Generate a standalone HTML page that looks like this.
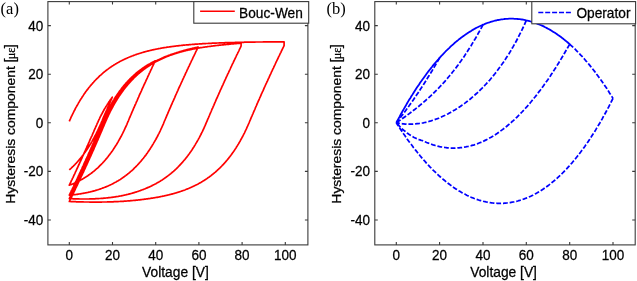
<!DOCTYPE html>
<html><head><meta charset="utf-8"><style>
html,body{margin:0;padding:0;background:#fff;}
svg{display:block;}
</style></head><body>
<svg width="637" height="281" viewBox="0 0 637 281">
<rect width="637" height="281" fill="#fff"/>
<g font-family="Liberation Sans, Arial, sans-serif" font-size="13.5" fill="#000" stroke-width="0">
<path d="M69.3,121.3L69.8,120.1L70.4,118.9L70.9,117.7L71.4,116.5L72.0,115.4L72.5,114.3L73.1,113.2L73.6,112.1L74.1,111.0L74.7,110.0L75.2,109.0L75.7,107.9L76.3,106.9L76.8,106.0L77.4,105.0L77.9,104.1L78.4,103.1L79.0,102.2L79.5,101.3L80.0,100.4L80.6,99.6L81.1,98.7L81.7,97.9L82.2,97.0L82.7,96.2L83.3,95.4L83.8,94.6L84.3,93.8L84.9,93.1L85.4,92.3L85.9,91.6L86.5,90.8L87.0,90.1L87.6,89.4L88.1,88.7L88.6,88.0L89.2,87.3L89.7,86.7L90.2,86.0L90.8,85.4L91.3,84.7L91.9,84.1L92.4,83.5L92.9,82.9L93.5,82.3L94.0,81.7L94.5,81.1L95.1,80.5L95.6,80.0L96.2,79.4L96.7,78.9L97.2,78.3L97.8,77.8L98.3,77.3L98.8,76.8L99.4,76.2L99.9,75.7L100.4,75.3L101.0,74.8L101.5,74.3L102.1,73.8L102.6,73.4L103.1,72.9L103.7,72.4L104.2,72.0L104.7,71.6L105.3,71.1L105.8,70.7L106.4,70.3L106.9,69.9L107.4,69.5L108.0,69.1L108.5,68.7L109.0,68.3L109.6,67.9L110.1,67.5L110.6,67.2L111.2,66.8L111.7,66.4L112.3,66.1L112.8,65.7L113.3,65.4L113.9,65.0L114.4,64.7L114.9,64.4L115.5,64.0L116.0,63.7L116.6,63.4L117.1,63.1L117.6,62.8L118.2,62.5L118.7,62.2L119.2,61.9L119.8,61.6L120.3,61.3L120.9,61.0L121.4,60.8L121.9,60.5L122.5,60.2L123.0,59.9L123.5,59.7L124.1,59.4L124.6,59.2L125.1,58.9L125.7,58.7L126.2,58.4L126.8,58.2L127.3,58.0L127.8,57.7L128.4,57.5L128.9,57.3L129.4,57.0L130.0,56.8L130.5,56.6L131.1,56.4L131.6,56.2L132.1,56.0L132.7,55.8L133.2,55.6L133.7,55.4L134.3,55.2L134.8,55.0L135.4,54.8L135.9,54.6L136.4,54.4L137.0,54.2L137.5,54.0L138.0,53.9L138.6,53.7L139.1,53.5L139.6,53.4L140.2,53.2L140.7,53.0L141.3,52.9L141.8,52.7L142.3,52.5L142.9,52.4L143.4,52.2L143.9,52.1L144.5,51.9L145.0,51.8L145.6,51.6L146.1,51.5L146.6,51.3L147.2,51.2L147.7,51.1L148.2,50.9L148.8,50.8L149.3,50.7L149.9,50.5L150.4,50.4L150.9,50.3L151.5,50.2L152.0,50.0L152.5,49.9L153.1,49.8L153.6,49.7L154.1,49.6L154.7,49.5L155.2,49.3L155.8,49.2L156.3,49.1L156.8,49.0L157.4,48.9L157.9,48.8L158.4,48.7L159.0,48.6L159.5,48.5L160.1,48.4L160.6,48.3L161.1,48.2L161.7,48.1L162.2,48.0L162.7,47.9L163.3,47.8L163.8,47.7L164.3,47.7L164.9,47.6L165.4,47.5L166.0,47.4L166.5,47.3L167.0,47.2L167.6,47.2L168.1,47.1L168.6,47.0L169.2,46.9L169.7,46.8L170.3,46.8L170.8,46.7L171.3,46.6L171.9,46.6L172.4,46.5L172.9,46.4L173.5,46.3L174.0,46.3L174.6,46.2L175.1,46.1L175.6,46.1L176.2,46.0L176.7,45.9L177.2,45.9L177.8,45.8L178.3,45.8L178.8,45.7L179.4,45.6L179.9,45.6L180.5,45.5L181.0,45.5L181.5,45.4L182.1,45.4L182.6,45.3L183.1,45.2L183.7,45.2L184.2,45.1L184.8,45.1L185.3,45.0L185.8,45.0L186.4,44.9L186.9,44.9L187.4,44.8L188.0,44.8L188.5,44.8L189.1,44.7L189.6,44.7L190.1,44.6L190.7,44.6L191.2,44.5L191.7,44.5L192.3,44.4L192.8,44.4L193.3,44.4L193.9,44.3L194.4,44.3L195.0,44.2L195.5,44.2L196.0,44.2L196.6,44.1L197.1,44.1L197.6,44.1L198.2,44.0L198.7,44.0L199.3,43.9L199.8,43.9L200.3,43.9L200.9,43.8L201.4,43.8L201.9,43.8L202.5,43.7L203.0,43.7L203.6,43.7L204.1,43.7L204.6,43.6L205.2,43.6L205.7,43.6L206.2,43.5L206.8,43.5L207.3,43.5L207.8,43.5L208.4,43.4L208.9,43.4L209.5,43.4L210.0,43.3L210.5,43.3L211.1,43.3L211.6,43.3L212.1,43.2L212.7,43.2L213.2,43.2L213.8,43.2L214.3,43.1L214.8,43.1L215.4,43.1L215.9,43.1L216.4,43.1L217.0,43.0L217.5,43.0L218.0,43.0L218.6,43.0L219.1,42.9L219.7,42.9L220.2,42.9L220.7,42.9L221.3,42.9L221.8,42.8L222.3,42.8L222.9,42.8L223.4,42.8L224.0,42.8L224.5,42.8L225.0,42.7L225.6,42.7L226.1,42.7L226.6,42.7L227.2,42.7L227.7,42.7L228.3,42.6L228.8,42.6L229.3,42.6L229.9,42.6L230.4,42.6L230.9,42.6L231.5,42.5L232.0,42.5L232.5,42.5L233.1,42.5L233.6,42.5L234.2,42.5L234.7,42.5L235.2,42.4L235.8,42.4L236.3,42.4L236.8,42.4L237.4,42.4L237.9,42.4L238.5,42.4L239.0,42.4L239.5,42.3L240.1,42.3L240.6,42.3L241.1,42.3L241.7,42.3L242.2,42.3L242.8,42.3L243.3,42.3L243.8,42.3L244.4,42.2L244.9,42.2L245.4,42.2L246.0,42.2L246.5,42.2L247.0,42.2L247.6,42.2L248.1,42.2L248.7,42.2L249.2,42.1L249.7,42.1L250.3,42.1L250.8,42.1L251.3,42.1L251.9,42.1L252.4,42.1L253.0,42.1L253.5,42.1L254.0,42.1L254.6,42.1L255.1,42.1L255.6,42.0L256.2,42.0L256.7,42.0L257.2,42.0L257.8,42.0L258.3,42.0L258.9,42.0L259.4,42.0L259.9,42.0L260.5,42.0L261.0,42.0L261.5,42.0L262.1,42.0L262.6,42.0L263.2,41.9L263.7,41.9L264.2,41.9L264.8,41.9L265.3,41.9L265.8,41.9L266.4,41.9L266.9,41.9L267.5,41.9L268.0,41.9L268.5,41.9L269.1,41.9L269.6,41.9L270.1,41.9L270.7,41.9L271.2,41.9L271.7,41.9L272.3,41.8L272.8,41.8L273.4,41.8L273.9,41.8L274.4,41.8L275.0,41.8L275.5,41.8L276.0,41.8L276.6,41.8L277.1,41.8L277.7,41.8L278.2,41.8L278.7,41.8L279.3,41.8L279.8,41.8L280.3,41.8L280.9,41.8L281.4,41.8L282.0,41.8L282.5,41.8L283.0,41.8L283.6,41.8L284.1,41.8L284.1,45.6L283.6,46.7L283.0,47.8L282.5,48.9L282.0,50.0L281.4,51.1L280.9,52.3L280.3,53.4L279.8,54.5L279.3,55.6L278.7,56.7L278.2,57.8L277.7,59.0L277.1,60.1L276.6,61.2L276.0,62.4L275.5,63.5L275.0,64.6L274.4,65.8L273.9,66.9L273.4,68.1L272.8,69.2L272.3,70.3L271.7,71.5L271.2,72.7L270.7,73.8L270.1,75.0L269.6,76.1L269.1,77.3L268.5,78.5L268.0,79.6L267.5,80.8L266.9,82.0L266.4,83.2L265.8,84.4L265.3,85.5L264.8,86.7L264.2,87.9L263.7,89.1L263.2,90.3L262.6,91.5L262.1,92.7L261.5,93.9L261.0,95.1L260.5,96.3L259.9,97.5L259.4,98.8L258.9,100.0L258.3,101.2L257.8,102.4L257.2,103.6L256.7,104.9L256.2,106.1L255.6,107.3L255.1,108.6L254.6,109.8L254.0,111.1L253.5,112.3L253.0,113.6L252.4,114.8L251.9,116.1L251.3,117.4L250.8,118.6L250.3,119.9L249.7,121.2L249.2,122.5L248.7,123.7L248.1,125.0L247.6,126.2L247.0,127.4L246.5,128.6L246.0,129.7L245.4,130.9L244.9,132.0L244.4,133.1L243.8,134.1L243.3,135.2L242.8,136.2L242.2,137.2L241.7,138.2L241.1,139.2L240.6,140.2L240.1,141.2L239.5,142.1L239.0,143.0L238.5,143.9L237.9,144.8L237.4,145.7L236.8,146.5L236.3,147.4L235.8,148.2L235.2,149.1L234.7,149.9L234.2,150.7L233.6,151.4L233.1,152.2L232.5,153.0L232.0,153.7L231.5,154.5L230.9,155.2L230.4,155.9L229.9,156.6L229.3,157.3L228.8,158.0L228.3,158.7L227.7,159.3L227.2,160.0L226.6,160.6L226.1,161.2L225.6,161.9L225.0,162.5L224.5,163.1L224.0,163.7L223.4,164.3L222.9,164.8L222.3,165.4L221.8,166.0L221.3,166.5L220.7,167.1L220.2,167.6L219.7,168.1L219.1,168.6L218.6,169.1L218.0,169.6L217.5,170.1L217.0,170.6L216.4,171.1L215.9,171.6L215.4,172.1L214.8,172.5L214.3,173.0L213.8,173.4L213.2,173.9L212.7,174.3L212.1,174.7L211.6,175.1L211.1,175.6L210.5,176.0L210.0,176.4L209.5,176.8L208.9,177.2L208.4,177.5L207.8,177.9L207.3,178.3L206.8,178.7L206.2,179.0L205.7,179.4L205.2,179.7L204.6,180.1L204.1,180.4L203.6,180.8L203.0,181.1L202.5,181.4L201.9,181.7L201.4,182.1L200.9,182.4L200.3,182.7L199.8,183.0L199.3,183.3L198.7,183.6L198.2,183.9L197.6,184.2L197.1,184.5L196.6,184.7L196.0,185.0L195.5,185.3L195.0,185.5L194.4,185.8L193.9,186.1L193.3,186.3L192.8,186.6L192.3,186.8L191.7,187.1L191.2,187.3L190.7,187.6L190.1,187.8L189.6,188.0L189.1,188.2L188.5,188.5L188.0,188.7L187.4,188.9L186.9,189.1L186.4,189.3L185.8,189.5L185.3,189.8L184.8,190.0L184.2,190.2L183.7,190.4L183.1,190.5L182.6,190.7L182.1,190.9L181.5,191.1L181.0,191.3L180.5,191.5L179.9,191.7L179.4,191.8L178.8,192.0L178.3,192.2L177.8,192.3L177.2,192.5L176.7,192.7L176.2,192.8L175.6,193.0L175.1,193.2L174.6,193.3L174.0,193.5L173.5,193.6L172.9,193.8L172.4,193.9L171.9,194.1L171.3,194.2L170.8,194.3L170.3,194.5L169.7,194.6L169.2,194.7L168.6,194.9L168.1,195.0L167.6,195.1L167.0,195.3L166.5,195.4L166.0,195.5L165.4,195.6L164.9,195.7L164.3,195.9L163.8,196.0L163.3,196.1L162.7,196.2L162.2,196.3L161.7,196.4L161.1,196.5L160.6,196.6L160.1,196.8L159.5,196.9L159.0,197.0L158.4,197.1L157.9,197.2L157.4,197.3L156.8,197.4L156.3,197.4L155.8,197.5L155.2,197.6L154.7,197.7L154.1,197.8L153.6,197.9L153.1,198.0L152.5,198.1L152.0,198.2L151.5,198.2L150.9,198.3L150.4,198.4L149.9,198.5L149.3,198.6L148.8,198.6L148.2,198.7L147.7,198.8L147.2,198.9L146.6,198.9L146.1,199.0L145.6,199.1L145.0,199.2L144.5,199.2L143.9,199.3L143.4,199.4L142.9,199.4L142.3,199.5L141.8,199.6L141.3,199.6L140.7,199.7L140.2,199.8L139.6,199.8L139.1,199.9L138.6,199.9L138.0,200.0L137.5,200.1L137.0,200.1L136.4,200.2L135.9,200.2L135.4,200.3L134.8,200.3L134.3,200.4L133.7,200.4L133.2,200.5L132.7,200.5L132.1,200.6L131.6,200.6L131.1,200.7L130.5,200.7L130.0,200.8L129.4,200.8L128.9,200.9L128.4,200.9L127.8,200.9L127.3,201.0L126.8,201.0L126.2,201.1L125.7,201.1L125.1,201.1L124.6,201.2L124.1,201.2L123.5,201.3L123.0,201.3L122.5,201.3L121.9,201.4L121.4,201.4L120.9,201.4L120.3,201.4L119.8,201.5L119.2,201.5L118.7,201.5L118.2,201.6L117.6,201.6L117.1,201.6L116.6,201.6L116.0,201.7L115.5,201.7L114.9,201.7L114.4,201.7L113.9,201.7L113.3,201.8L112.8,201.8L112.3,201.8L111.7,201.8L111.2,201.8L110.6,201.9L110.1,201.9L109.6,201.9L109.0,201.9L108.5,201.9L108.0,201.9L107.4,201.9L106.9,202.0L106.4,202.0L105.8,202.0L105.3,202.0L104.7,202.0L104.2,202.0L103.7,202.0L103.1,202.0L102.6,202.0L102.1,202.0L101.5,202.1L101.0,202.1L100.4,202.1L99.9,202.1L99.4,202.1L98.8,202.1L98.3,202.1L97.8,202.1L97.2,202.1L96.7,202.1L96.2,202.1L95.6,202.1L95.1,202.1L94.5,202.1L94.0,202.1L93.5,202.1L92.9,202.1L92.4,202.1L91.9,202.1L91.3,202.1L90.8,202.1L90.2,202.1L89.7,202.1L89.2,202.0L88.6,202.0L88.1,202.0L87.6,202.0L87.0,202.0L86.5,202.0L85.9,202.0L85.4,202.0L84.9,202.0L84.3,202.0L83.8,202.0L83.3,201.9L82.7,201.9L82.2,201.9L81.7,201.9L81.1,201.9L80.6,201.9L80.0,201.9L79.5,201.9L79.0,201.8L78.4,201.8L77.9,201.8L77.4,201.8L76.8,201.8L76.3,201.8L75.7,201.7L75.2,201.7L74.7,201.7L74.1,201.7L73.6,201.7L73.1,201.6L72.5,201.6L72.0,201.6L71.4,201.6L70.9,201.6L70.4,201.5L69.8,201.5L69.3,201.5L69.8,200.4L70.4,199.3L70.9,198.2L71.4,197.1L72.0,196.0L72.5,194.9L73.1,193.8L73.6,192.7L74.1,191.6L74.7,190.5L75.2,189.3L75.7,188.2L76.3,187.1L76.8,186.0L77.4,184.8L77.9,183.7L78.4,182.6L79.0,181.4L79.5,180.3L80.0,179.2L80.6,178.0L81.1,176.9L81.7,175.7L82.2,174.6L82.7,173.4L83.3,172.3L83.8,171.1L84.3,169.9L84.9,168.8L85.4,167.6L85.9,166.4L86.5,165.3L87.0,164.1L87.6,162.9L88.1,161.7L88.6,160.5L89.2,159.4L89.7,158.2L90.2,157.0L90.8,155.8L91.3,154.6L91.9,153.4L92.4,152.2L92.9,151.0L93.5,149.8L94.0,148.6L94.5,147.3L95.1,146.1L95.6,144.9L96.2,143.7L96.7,142.5L97.2,141.2L97.8,140.0L98.3,138.8L98.8,137.5L99.4,136.3L99.9,135.0L100.4,133.8L101.0,132.5L101.5,131.3L102.1,130.0L102.6,128.7L103.1,127.5L103.7,126.2L104.2,124.9L104.7,123.7L105.3,122.4L105.8,121.1L106.4,119.9L106.9,118.7L107.4,117.5L108.0,116.3L108.5,115.2L109.0,114.1L109.6,113.0L110.1,111.9L110.6,110.8L111.2,109.8L111.7,108.8L112.3,107.8L112.8,106.8L113.3,105.8L113.9,104.8L114.4,103.9L114.9,103.0L115.5,102.1L116.0,101.2L116.6,100.3L117.1,99.4L117.6,98.5L118.2,97.7L118.7,96.9L119.2,96.1L119.8,95.3L120.3,94.5L120.9,93.7L121.4,92.9L121.9,92.2L122.5,91.4L123.0,90.7L123.5,90.0L124.1,89.3L124.6,88.6L125.1,87.9L125.7,87.2L126.2,86.5L126.8,85.9L127.3,85.2L127.8,84.6L128.4,84.0L128.9,83.4L129.4,82.8L130.0,82.2L130.5,81.6L131.1,81.0L131.6,80.4L132.1,79.9L132.7,79.3L133.2,78.8L133.7,78.2L134.3,77.7L134.8,77.2L135.4,76.7L135.9,76.2L136.4,75.7L137.0,75.2L137.5,74.7L138.0,74.2L138.6,73.7L139.1,73.3L139.6,72.8L140.2,72.4L140.7,71.9L141.3,71.5L141.8,71.1L142.3,70.6L142.9,70.2L143.4,69.8L143.9,69.4L144.5,69.0L145.0,68.6L145.6,68.2L146.1,67.8L146.6,67.5L147.2,67.1L147.7,66.7L148.2,66.4L148.8,66.0L149.3,65.7L149.9,65.3L150.4,65.0L150.9,64.6L151.5,64.3L152.0,64.0L152.5,63.7L153.1,63.3L153.6,63.0L154.1,62.7L154.7,62.4L155.2,62.1L155.8,61.8L156.3,61.5L156.8,61.3L157.4,61.0L157.9,60.7L158.4,60.4L159.0,60.2L159.5,59.9L160.1,59.6L160.6,59.4L161.1,59.1L161.7,58.9L162.2,58.6L162.7,58.4L163.3,58.1L163.8,57.9L164.3,57.7L164.9,57.4L165.4,57.2L166.0,57.0L166.5,56.8L167.0,56.6L167.6,56.3L168.1,56.1L168.6,55.9L169.2,55.7L169.7,55.5L170.3,55.3L170.8,55.1L171.3,54.9L171.9,54.7L172.4,54.6L172.9,54.4L173.5,54.2L174.0,54.0L174.6,53.8L175.1,53.7L175.6,53.5L176.2,53.3L176.7,53.2L177.2,53.0L177.8,52.8L178.3,52.7L178.8,52.5L179.4,52.4L179.9,52.2L180.5,52.0L181.0,51.9L181.5,51.8L182.1,51.6L182.6,51.5L183.1,51.3L183.7,51.2L184.2,51.0L184.8,50.9L185.3,50.8L185.8,50.6L186.4,50.5L186.9,50.4L187.4,50.3L188.0,50.1L188.5,50.0L189.1,49.9L189.6,49.8L190.1,49.7L190.7,49.6L191.2,49.4L191.7,49.3L192.3,49.2L192.8,49.1L193.3,49.0L193.9,48.9L194.4,48.8L195.0,48.7L195.5,48.6L196.0,48.5L196.6,48.4L197.1,48.3L197.6,48.2L198.2,48.1L198.7,48.0L199.3,47.9L199.8,47.8L200.3,47.7L200.9,47.6L201.4,47.6L201.9,47.5L202.5,47.4L203.0,47.3L203.6,47.2L204.1,47.1L204.6,47.1L205.2,47.0L205.7,46.9L206.2,46.8L206.8,46.8L207.3,46.7L207.8,46.6L208.4,46.5L208.9,46.5L209.5,46.4L210.0,46.3L210.5,46.3L211.1,46.2L211.6,46.1L212.1,46.1L212.7,46.0L213.2,45.9L213.8,45.9L214.3,45.8L214.8,45.7L215.4,45.7L215.9,45.6L216.4,45.5L217.0,45.5L217.5,45.4L218.0,45.4L218.6,45.3L219.1,45.2L219.7,45.2L220.2,45.1L220.7,45.1L221.3,45.0L221.8,45.0L222.3,44.9L222.9,44.8L223.4,44.8L224.0,44.7L224.5,44.7L225.0,44.6L225.6,44.6L226.1,44.5L226.6,44.5L227.2,44.4L227.7,44.4L228.3,44.3L228.8,44.3L229.3,44.2L229.9,44.1L230.4,44.1L230.9,44.0L231.5,44.0L232.0,43.9L232.5,43.9L233.1,43.8L233.6,43.8L234.2,43.7L234.7,43.7L235.2,43.7L235.8,43.6L236.3,43.6L236.8,43.5L237.4,43.5L237.9,43.4L238.5,43.4L239.0,43.3L239.5,43.3L240.1,43.2L240.6,43.2L241.1,43.1L241.1,46.0L240.6,47.1L240.1,48.2L239.5,49.3L239.0,50.5L238.5,51.6L237.9,52.7L237.4,53.8L236.8,54.9L236.3,56.0L235.8,57.1L235.2,58.3L234.7,59.4L234.2,60.5L233.6,61.6L233.1,62.8L232.5,63.9L232.0,65.0L231.5,66.2L230.9,67.3L230.4,68.5L229.9,69.6L229.3,70.8L228.8,71.9L228.3,73.1L227.7,74.2L227.2,75.4L226.6,76.6L226.1,77.7L225.6,78.9L225.0,80.1L224.5,81.2L224.0,82.4L223.4,83.6L222.9,84.8L222.3,86.0L221.8,87.2L221.3,88.4L220.7,89.5L220.2,90.7L219.7,91.9L219.1,93.1L218.6,94.4L218.0,95.6L217.5,96.8L217.0,98.0L216.4,99.2L215.9,100.4L215.4,101.6L214.8,102.9L214.3,104.1L213.8,105.3L213.2,106.6L212.7,107.8L212.1,109.0L211.6,110.3L211.1,111.5L210.5,112.8L210.0,114.0L209.5,115.3L208.9,116.6L208.4,117.8L207.8,119.1L207.3,120.4L206.8,121.7L206.2,122.9L205.7,124.2L205.2,125.4L204.6,126.6L204.1,127.8L203.6,129.0L203.0,130.1L202.5,131.3L201.9,132.4L201.4,133.5L200.9,134.5L200.3,135.6L199.8,136.6L199.3,137.6L198.7,138.6L198.2,139.6L197.6,140.6L197.1,141.5L196.6,142.4L196.0,143.3L195.5,144.2L195.0,145.1L194.4,146.0L193.9,146.9L193.3,147.7L192.8,148.5L192.3,149.4L191.7,150.2L191.2,151.0L190.7,151.7L190.1,152.5L189.6,153.3L189.1,154.0L188.5,154.7L188.0,155.5L187.4,156.2L186.9,156.9L186.4,157.6L185.8,158.2L185.3,158.9L184.8,159.6L184.2,160.2L183.7,160.8L183.1,161.5L182.6,162.1L182.1,162.7L181.5,163.3L181.0,163.9L180.5,164.5L179.9,165.0L179.4,165.6L178.8,166.2L178.3,166.7L177.8,167.3L177.2,167.8L176.7,168.3L176.2,168.8L175.6,169.3L175.1,169.8L174.6,170.3L174.0,170.8L173.5,171.3L172.9,171.8L172.4,172.2L171.9,172.7L171.3,173.1L170.8,173.6L170.3,174.0L169.7,174.4L169.2,174.9L168.6,175.3L168.1,175.7L167.6,176.1L167.0,176.5L166.5,176.9L166.0,177.3L165.4,177.7L164.9,178.1L164.3,178.4L163.8,178.8L163.3,179.2L162.7,179.5L162.2,179.9L161.7,180.2L161.1,180.5L160.6,180.9L160.1,181.2L159.5,181.5L159.0,181.9L158.4,182.2L157.9,182.5L157.4,182.8L156.8,183.1L156.3,183.4L155.8,183.7L155.2,184.0L154.7,184.3L154.1,184.6L153.6,184.8L153.1,185.1L152.5,185.4L152.0,185.6L151.5,185.9L150.9,186.2L150.4,186.4L149.9,186.7L149.3,186.9L148.8,187.2L148.2,187.4L147.7,187.6L147.2,187.9L146.6,188.1L146.1,188.3L145.6,188.6L145.0,188.8L144.5,189.0L143.9,189.2L143.4,189.4L142.9,189.6L142.3,189.8L141.8,190.0L141.3,190.2L140.7,190.4L140.2,190.6L139.6,190.8L139.1,191.0L138.6,191.2L138.0,191.4L137.5,191.5L137.0,191.7L136.4,191.9L135.9,192.1L135.4,192.2L134.8,192.4L134.3,192.6L133.7,192.7L133.2,192.9L132.7,193.1L132.1,193.2L131.6,193.4L131.1,193.5L130.5,193.7L130.0,193.8L129.4,193.9L128.9,194.1L128.4,194.2L127.8,194.4L127.3,194.5L126.8,194.6L126.2,194.7L125.7,194.9L125.1,195.0L124.6,195.1L124.1,195.2L123.5,195.3L123.0,195.5L122.5,195.6L121.9,195.7L121.4,195.8L120.9,195.9L120.3,196.0L119.8,196.1L119.2,196.2L118.7,196.3L118.2,196.4L117.6,196.5L117.1,196.6L116.6,196.6L116.0,196.7L115.5,196.8L114.9,196.9L114.4,197.0L113.9,197.1L113.3,197.1L112.8,197.2L112.3,197.3L111.7,197.4L111.2,197.4L110.6,197.5L110.1,197.6L109.6,197.6L109.0,197.7L108.5,197.7L108.0,197.8L107.4,197.9L106.9,197.9L106.4,198.0L105.8,198.0L105.3,198.1L104.7,198.1L104.2,198.2L103.7,198.2L103.1,198.3L102.6,198.3L102.1,198.4L101.5,198.4L101.0,198.4L100.4,198.5L99.9,198.5L99.4,198.5L98.8,198.6L98.3,198.6L97.8,198.6L97.2,198.7L96.7,198.7L96.2,198.7L95.6,198.7L95.1,198.8L94.5,198.8L94.0,198.8L93.5,198.8L92.9,198.9L92.4,198.9L91.9,198.9L91.3,198.9L90.8,198.9L90.2,198.9L89.7,198.9L89.2,199.0L88.6,199.0L88.1,199.0L87.6,199.0L87.0,199.0L86.5,199.0L85.9,199.0L85.4,199.0L84.9,199.0L84.3,199.0L83.8,199.0L83.3,199.0L82.7,199.0L82.2,199.0L81.7,199.0L81.1,199.0L80.6,199.0L80.0,199.0L79.5,199.0L79.0,198.9L78.4,198.9L77.9,198.9L77.4,198.9L76.8,198.9L76.3,198.9L75.7,198.9L75.2,198.8L74.7,198.8L74.1,198.8L73.6,198.8L73.1,198.8L72.5,198.7L72.0,198.7L71.4,198.7L70.9,198.7L70.4,198.6L69.8,198.6L69.3,198.6L69.8,197.5L70.4,196.4L70.9,195.3L71.4,194.2L72.0,193.1L72.5,191.9L73.1,190.8L73.6,189.7L74.1,188.6L74.7,187.5L75.2,186.3L75.7,185.2L76.3,184.1L76.8,183.0L77.4,181.8L77.9,180.7L78.4,179.5L79.0,178.4L79.5,177.3L80.0,176.1L80.6,175.0L81.1,173.8L81.7,172.7L82.2,171.5L82.7,170.3L83.3,169.2L83.8,168.0L84.3,166.8L84.9,165.7L85.4,164.5L85.9,163.3L86.5,162.1L87.0,160.9L87.6,159.8L88.1,158.6L88.6,157.4L89.2,156.2L89.7,155.0L90.2,153.8L90.8,152.6L91.3,151.4L91.9,150.2L92.4,149.0L92.9,147.8L93.5,146.5L94.0,145.3L94.5,144.1L95.1,142.9L95.6,141.6L96.2,140.4L96.7,139.2L97.2,137.9L97.8,136.7L98.3,135.4L98.8,134.2L99.4,132.9L99.9,131.7L100.4,130.4L101.0,129.2L101.5,127.9L102.1,126.6L102.6,125.4L103.1,124.1L103.7,122.8L104.2,121.5L104.7,120.3L105.3,119.1L105.8,117.9L106.4,116.7L106.9,115.6L107.4,114.5L108.0,113.3L108.5,112.3L109.0,111.2L109.6,110.1L110.1,109.1L110.6,108.1L111.2,107.1L111.7,106.1L112.3,105.2L112.8,104.2L113.3,103.3L113.9,102.4L114.4,101.5L114.9,100.6L115.5,99.7L116.0,98.8L116.6,98.0L117.1,97.2L117.6,96.3L118.2,95.5L118.7,94.7L119.2,94.0L119.8,93.2L120.3,92.4L120.9,91.7L121.4,90.9L121.9,90.2L122.5,89.5L123.0,88.8L123.5,88.1L124.1,87.4L124.6,86.8L125.1,86.1L125.7,85.5L126.2,84.8L126.8,84.2L127.3,83.6L127.8,83.0L128.4,82.4L128.9,81.8L129.4,81.2L130.0,80.6L130.5,80.1L131.1,79.5L131.6,78.9L132.1,78.4L132.7,77.9L133.2,77.4L133.7,76.8L134.3,76.3L134.8,75.8L135.4,75.3L135.9,74.8L136.4,74.4L137.0,73.9L137.5,73.4L138.0,73.0L138.6,72.5L139.1,72.1L139.6,71.6L140.2,71.2L140.7,70.8L141.3,70.4L141.8,69.9L142.3,69.5L142.9,69.1L143.4,68.7L143.9,68.3L144.5,68.0L145.0,67.6L145.6,67.2L146.1,66.8L146.6,66.5L147.2,66.1L147.7,65.8L148.2,65.4L148.8,65.1L149.3,64.8L149.9,64.4L150.4,64.1L150.9,63.8L151.5,63.5L152.0,63.1L152.5,62.8L153.1,62.5L153.6,62.2L154.1,61.9L154.7,61.6L155.2,61.4L155.8,61.1L156.3,60.8L156.8,60.5L157.4,60.3L157.9,60.0L158.4,59.7L159.0,59.5L159.5,59.2L160.1,59.0L160.6,58.7L161.1,58.5L161.7,58.2L162.2,58.0L162.7,57.8L163.3,57.5L163.8,57.3L164.3,57.1L164.9,56.9L165.4,56.6L166.0,56.4L166.5,56.2L167.0,56.0L167.6,55.8L168.1,55.6L168.6,55.4L169.2,55.2L169.7,55.0L170.3,54.8L170.8,54.6L171.3,54.4L171.9,54.2L172.4,54.0L172.9,53.9L173.5,53.7L174.0,53.5L174.6,53.3L175.1,53.1L175.6,53.0L176.2,52.8L176.7,52.6L177.2,52.5L177.8,52.3L178.3,52.1L178.8,52.0L179.4,51.8L179.9,51.6L180.5,51.5L181.0,51.3L181.5,51.2L182.1,51.0L182.6,50.9L183.1,50.7L183.7,50.6L184.2,50.4L184.8,50.3L185.3,50.1L185.8,50.0L186.4,49.8L186.9,49.7L187.4,49.6L188.0,49.4L188.5,49.3L189.1,49.2L189.6,49.0L190.1,48.9L190.7,48.8L191.2,48.6L191.7,48.5L192.3,48.4L192.8,48.2L193.3,48.1L193.9,48.0L194.4,47.9L195.0,47.7L195.5,47.6L196.0,47.5L196.6,47.4L197.1,47.3L197.6,47.1L198.2,47.0L197.6,48.1L197.1,49.2L196.6,50.3L196.0,51.4L195.5,52.5L195.0,53.7L194.4,54.8L193.9,55.9L193.3,57.0L192.8,58.1L192.3,59.3L191.7,60.4L191.2,61.5L190.7,62.6L190.1,63.8L189.6,64.9L189.1,66.1L188.5,67.2L188.0,68.3L187.4,69.5L186.9,70.6L186.4,71.8L185.8,72.9L185.3,74.1L184.8,75.3L184.2,76.4L183.7,77.6L183.1,78.8L182.6,79.9L182.1,81.1L181.5,82.3L181.0,83.5L180.5,84.7L179.9,85.8L179.4,87.0L178.8,88.2L178.3,89.4L177.8,90.6L177.2,91.8L176.7,93.0L176.2,94.2L175.6,95.4L175.1,96.6L174.6,97.8L174.0,99.1L173.5,100.3L172.9,101.5L172.4,102.7L171.9,104.0L171.3,105.2L170.8,106.4L170.3,107.7L169.7,108.9L169.2,110.2L168.6,111.4L168.1,112.7L167.6,113.9L167.0,115.2L166.5,116.4L166.0,117.7L165.4,119.0L164.9,120.2L164.3,121.5L163.8,122.8L163.3,124.1L162.7,125.3L162.2,126.5L161.7,127.7L161.1,128.9L160.6,130.0L160.1,131.1L159.5,132.3L159.0,133.3L158.4,134.4L157.9,135.5L157.4,136.5L156.8,137.5L156.3,138.5L155.8,139.5L155.2,140.4L154.7,141.4L154.1,142.3L153.6,143.2L153.1,144.1L152.5,145.0L152.0,145.9L151.5,146.8L150.9,147.6L150.4,148.4L149.9,149.3L149.3,150.1L148.8,150.9L148.2,151.6L147.7,152.4L147.2,153.2L146.6,153.9L146.1,154.7L145.6,155.4L145.0,156.1L144.5,156.8L143.9,157.5L143.4,158.2L142.9,158.8L142.3,159.5L141.8,160.1L141.3,160.8L140.7,161.4L140.2,162.0L139.6,162.6L139.1,163.2L138.6,163.8L138.0,164.4L137.5,165.0L137.0,165.5L136.4,166.1L135.9,166.7L135.4,167.2L134.8,167.7L134.3,168.2L133.7,168.8L133.2,169.3L132.7,169.8L132.1,170.3L131.6,170.8L131.1,171.2L130.5,171.7L130.0,172.2L129.4,172.6L128.9,173.1L128.4,173.5L127.8,173.9L127.3,174.4L126.8,174.8L126.2,175.2L125.7,175.6L125.1,176.0L124.6,176.4L124.1,176.8L123.5,177.2L123.0,177.6L122.5,177.9L121.9,178.3L121.4,178.7L120.9,179.0L120.3,179.4L119.8,179.7L119.2,180.0L118.7,180.4L118.2,180.7L117.6,181.0L117.1,181.3L116.6,181.6L116.0,182.0L115.5,182.3L114.9,182.5L114.4,182.8L113.9,183.1L113.3,183.4L112.8,183.7L112.3,184.0L111.7,184.2L111.2,184.5L110.6,184.7L110.1,185.0L109.6,185.3L109.0,185.5L108.5,185.7L108.0,186.0L107.4,186.2L106.9,186.4L106.4,186.7L105.8,186.9L105.3,187.1L104.7,187.3L104.2,187.5L103.7,187.7L103.1,187.9L102.6,188.1L102.1,188.3L101.5,188.5L101.0,188.7L100.4,188.9L99.9,189.1L99.4,189.3L98.8,189.5L98.3,189.6L97.8,189.8L97.2,190.0L96.7,190.1L96.2,190.3L95.6,190.4L95.1,190.6L94.5,190.8L94.0,190.9L93.5,191.1L92.9,191.2L92.4,191.3L91.9,191.5L91.3,191.6L90.8,191.7L90.2,191.9L89.7,192.0L89.2,192.1L88.6,192.2L88.1,192.4L87.6,192.5L87.0,192.6L86.5,192.7L85.9,192.8L85.4,192.9L84.9,193.0L84.3,193.1L83.8,193.2L83.3,193.3L82.7,193.4L82.2,193.5L81.7,193.6L81.1,193.7L80.6,193.8L80.0,193.9L79.5,194.0L79.0,194.0L78.4,194.1L77.9,194.2L77.4,194.3L76.8,194.3L76.3,194.4L75.7,194.5L75.2,194.6L74.7,194.6L74.1,194.7L73.6,194.7L73.1,194.8L72.5,194.9L72.0,194.9L71.4,195.0L70.9,195.0L70.4,195.1L69.8,195.1L69.3,195.2L69.8,194.1L70.4,193.0L70.9,191.9L71.4,190.7L72.0,189.6L72.5,188.5L73.1,187.4L73.6,186.3L74.1,185.1L74.7,184.0L75.2,182.9L75.7,181.7L76.3,180.6L76.8,179.5L77.4,178.3L77.9,177.2L78.4,176.0L79.0,174.9L79.5,173.7L80.0,172.6L80.6,171.4L81.1,170.2L81.7,169.1L82.2,167.9L82.7,166.7L83.3,165.6L83.8,164.4L84.3,163.2L84.9,162.0L85.4,160.9L85.9,159.7L86.5,158.5L87.0,157.3L87.6,156.1L88.1,154.9L88.6,153.7L89.2,152.5L89.7,151.3L90.2,150.1L90.8,148.9L91.3,147.7L91.9,146.4L92.4,145.2L92.9,144.0L93.5,142.8L94.0,141.5L94.5,140.3L95.1,139.1L95.6,137.8L96.2,136.6L96.7,135.3L97.2,134.1L97.8,132.8L98.3,131.6L98.8,130.3L99.4,129.1L99.9,127.8L100.4,126.5L101.0,125.3L101.5,124.0L102.1,122.7L102.6,121.4L103.1,120.2L103.7,119.0L104.2,117.8L104.7,116.6L105.3,115.5L105.8,114.4L106.4,113.3L106.9,112.2L107.4,111.1L108.0,110.1L108.5,109.0L109.0,108.0L109.6,107.0L110.1,106.0L110.6,105.1L111.2,104.1L111.7,103.2L112.3,102.3L112.8,101.4L113.3,100.5L113.9,99.6L114.4,98.8L114.9,97.9L115.5,97.1L116.0,96.3L116.6,95.5L117.1,94.7L117.6,93.9L118.2,93.1L118.7,92.4L119.2,91.6L119.8,90.9L120.3,90.2L120.9,89.5L121.4,88.8L121.9,88.1L122.5,87.4L123.0,86.7L123.5,86.1L124.1,85.4L124.6,84.8L125.1,84.2L125.7,83.5L126.2,82.9L126.8,82.3L127.3,81.7L127.8,81.2L128.4,80.6L128.9,80.0L129.4,79.5L130.0,78.9L130.5,78.4L131.1,77.9L131.6,77.3L132.1,76.8L132.7,76.3L133.2,75.8L133.7,75.3L134.3,74.8L134.8,74.4L135.4,73.9L135.9,73.4L136.4,73.0L137.0,72.5L137.5,72.1L138.0,71.7L138.6,71.2L139.1,70.8L139.6,70.4L140.2,70.0L140.7,69.6L141.3,69.2L141.8,68.8L142.3,68.4L142.9,68.1L143.4,67.7L143.9,67.3L144.5,67.0L145.0,66.6L145.6,66.3L146.1,65.9L146.6,65.6L147.2,65.3L147.7,64.9L148.2,64.6L148.8,64.3L149.3,64.0L149.9,63.7L150.4,63.4L150.9,63.1L151.5,62.8L152.0,62.5L152.5,62.2L153.1,61.9L153.6,61.7L154.1,61.4L154.7,61.1L155.2,60.9L154.7,62.0L154.1,63.1L153.6,64.3L153.1,65.4L152.5,66.5L152.0,67.7L151.5,68.8L150.9,70.0L150.4,71.1L149.9,72.3L149.3,73.4L148.8,74.6L148.2,75.8L147.7,76.9L147.2,78.1L146.6,79.3L146.1,80.4L145.6,81.6L145.0,82.8L144.5,84.0L143.9,85.2L143.4,86.3L142.9,87.5L142.3,88.7L141.8,89.9L141.3,91.1L140.7,92.3L140.2,93.5L139.6,94.7L139.1,95.9L138.6,97.1L138.0,98.4L137.5,99.6L137.0,100.8L136.4,102.0L135.9,103.3L135.4,104.5L134.8,105.7L134.3,107.0L133.7,108.2L133.2,109.4L132.7,110.7L132.1,111.9L131.6,113.2L131.1,114.4L130.5,115.7L130.0,117.0L129.4,118.2L128.9,119.5L128.4,120.8L127.8,122.0L127.3,123.3L126.8,124.6L126.2,125.8L125.7,127.0L125.1,128.2L124.6,129.3L124.1,130.4L123.5,131.6L123.0,132.7L122.5,133.7L121.9,134.8L121.4,135.8L120.9,136.8L120.3,137.8L119.8,138.8L119.2,139.8L118.7,140.7L118.2,141.7L117.6,142.6L117.1,143.5L116.6,144.4L116.0,145.2L115.5,146.1L114.9,146.9L114.4,147.8L113.9,148.6L113.3,149.4L112.8,150.2L112.3,150.9L111.7,151.7L111.2,152.5L110.6,153.2L110.1,153.9L109.6,154.6L109.0,155.3L108.5,156.0L108.0,156.7L107.4,157.4L106.9,158.1L106.4,158.7L105.8,159.3L105.3,160.0L104.7,160.6L104.2,161.2L103.7,161.8L103.1,162.4L102.6,163.0L102.1,163.5L101.5,164.1L101.0,164.6L100.4,165.2L99.9,165.7L99.4,166.2L98.8,166.8L98.3,167.3L97.8,167.8L97.2,168.3L96.7,168.7L96.2,169.2L95.6,169.7L95.1,170.2L94.5,170.6L94.0,171.1L93.5,171.5L92.9,171.9L92.4,172.3L91.9,172.8L91.3,173.2L90.8,173.6L90.2,174.0L89.7,174.4L89.2,174.8L88.6,175.1L88.1,175.5L87.6,175.9L87.0,176.2L86.5,176.6L85.9,176.9L85.4,177.3L84.9,177.6L84.3,177.9L83.8,178.3L83.3,178.6L82.7,178.9L82.2,179.2L81.7,179.5L81.1,179.8L80.6,180.1L80.0,180.4L79.5,180.7L79.0,181.0L78.4,181.2L77.9,181.5L77.4,181.8L76.8,182.0L76.3,182.3L75.7,182.5L75.2,182.8L74.7,183.0L74.1,183.3L73.6,183.5L73.1,183.7L72.5,184.0L72.0,184.2L71.4,184.4L70.9,184.6L70.4,184.8L69.8,185.0L69.3,185.2L69.8,184.1L70.4,183.0L70.9,181.8L71.4,180.7L72.0,179.6L72.5,178.4L73.1,177.3L73.6,176.1L74.1,175.0L74.7,173.8L75.2,172.7L75.7,171.5L76.3,170.3L76.8,169.2L77.4,168.0L77.9,166.8L78.4,165.7L79.0,164.5L79.5,163.3L80.0,162.1L80.6,161.0L81.1,159.8L81.7,158.6L82.2,157.4L82.7,156.2L83.3,155.0L83.8,153.8L84.3,152.6L84.9,151.5L85.4,150.3L85.9,149.1L86.5,147.9L87.0,146.7L87.6,145.5L88.1,144.3L88.6,143.1L89.2,141.9L89.7,140.6L90.2,139.4L90.8,138.2L91.3,137.0L91.9,135.8L92.4,134.6L92.9,133.4L93.5,132.1L94.0,130.9L94.5,129.7L95.1,128.5L95.6,127.2L96.2,126.0L96.7,124.8L97.2,123.5L97.8,122.3L98.3,121.1L98.8,120.0L99.4,118.8L99.9,117.7L100.4,116.6L101.0,115.5L101.5,114.5L102.1,113.5L102.6,112.5L103.1,111.5L103.7,110.5L104.2,109.5L104.7,108.6L105.3,107.7L105.8,106.8L106.4,105.9L106.9,105.1L107.4,104.2L108.0,103.4L108.5,102.6L109.0,101.8L109.6,101.0L110.1,100.2L110.6,99.5L111.2,98.7L111.7,98.0L112.3,97.3L112.3,97.2L111.7,98.4L111.2,99.7L110.6,100.9L110.1,102.1L109.6,103.3L109.0,104.5L108.5,105.8L108.0,107.0L107.4,108.2L106.9,109.5L106.4,110.7L105.8,112.0L105.3,113.2L104.7,114.5L104.2,115.7L103.7,117.0L103.1,118.2L102.6,119.5L102.1,120.8L101.5,122.1L101.0,123.3L100.4,124.6L99.9,125.8L99.4,127.0L98.8,128.2L98.3,129.3L97.8,130.4L97.2,131.6L96.7,132.6L96.2,133.7L95.6,134.8L95.1,135.8L94.5,136.8L94.0,137.8L93.5,138.8L92.9,139.8L92.4,140.7L91.9,141.6L91.3,142.6L90.8,143.5L90.2,144.4L89.7,145.2L89.2,146.1L88.6,146.9L88.1,147.8L87.6,148.6L87.0,149.4L86.5,150.2L85.9,151.0L85.4,151.7L84.9,152.5L84.3,153.2L83.8,154.0L83.3,154.7L82.7,155.4L82.2,156.1L81.7,156.8L81.1,157.4L80.6,158.1L80.0,158.8L79.5,159.4L79.0,160.0L78.4,160.7L77.9,161.3L77.4,161.9L76.8,162.5L76.3,163.1L75.7,163.6L75.2,164.2L74.7,164.8L74.1,165.3L73.6,165.9L73.1,166.4L72.5,166.9L72.0,167.4L71.4,168.0L70.9,168.5L70.4,169.0L69.8,169.4L69.3,169.9" fill="none" stroke="#f00" stroke-width="1.7" stroke-linejoin="round"/>
<path d="M613.0,98.4L611.9,100.5L610.8,102.7L609.7,104.8L608.7,106.9L607.6,108.9L606.5,111.0L605.4,113.0L604.3,115.0L603.2,116.9L602.2,118.9L601.1,120.8L600.0,122.7L598.9,124.5L597.8,126.3L596.7,128.1L595.7,129.9L594.6,131.7L593.5,133.4L592.4,135.1L591.3,136.8L590.2,138.4L589.2,140.1L588.1,141.7L587.0,143.3L585.9,144.8L584.8,146.4L583.7,147.9L582.7,149.4L581.6,150.8L580.5,152.3L579.4,153.7L578.3,155.1L577.2,156.5L576.2,157.8L575.1,159.2L574.0,160.5L572.9,161.8L571.8,163.1L570.7,164.3L569.7,165.5L568.6,166.7L567.5,167.9L566.4,169.1L565.3,170.2L564.2,171.3L563.2,172.4L562.1,173.5L561.0,174.6L559.9,175.6L558.8,176.6L557.7,177.6L556.7,178.6L555.6,179.6L554.5,180.5L553.4,181.4L552.3,182.3L551.2,183.2L550.2,184.0L549.1,184.9L548.0,185.7L546.9,186.5L545.8,187.3L544.7,188.0L543.7,188.8L542.6,189.5L541.5,190.2L540.4,190.9L539.3,191.6L538.2,192.2L537.2,192.8L536.1,193.4L535.0,194.0L533.9,194.6L532.8,195.2L531.7,195.7L530.7,196.2L529.6,196.7L528.5,197.2L527.4,197.7L526.3,198.1L525.2,198.5L524.2,198.9L523.1,199.3L522.0,199.7L520.9,200.0L519.8,200.4L518.7,200.7L517.7,201.0L516.6,201.3L515.5,201.5L514.4,201.8L513.3,202.0L512.2,202.2L511.2,202.4L510.1,202.6L509.0,202.7L507.9,202.9L506.8,203.0L505.7,203.1L504.6,203.2L503.6,203.3L502.5,203.3L501.4,203.3L500.3,203.4L499.2,203.3L498.1,203.3L497.1,203.3L496.0,203.2L494.9,203.2L493.8,203.1L492.7,203.0L491.6,202.8L490.6,202.7L489.5,202.5L488.4,202.4L487.3,202.2L486.2,202.0L485.1,201.7L484.1,201.5L483.0,201.2L481.9,200.9L480.8,200.6L479.7,200.3L478.6,200.0L477.6,199.6L476.5,199.3L475.4,198.9L474.3,198.5L473.2,198.0L472.1,197.6L471.1,197.2L470.0,196.7L468.9,196.2L467.8,195.7L466.7,195.2L465.6,194.6L464.6,194.0L463.5,193.5L462.4,192.9L461.3,192.3L460.2,191.6L459.1,191.0L458.1,190.3L457.0,189.6L455.9,188.9L454.8,188.2L453.7,187.5L452.6,186.7L451.6,185.9L450.5,185.1L449.4,184.3L448.3,183.5L447.2,182.7L446.1,181.8L445.1,180.9L444.0,180.0L442.9,179.1L441.8,178.2L440.7,177.2L439.6,176.3L438.6,175.3L437.5,174.3L436.4,173.3L435.3,172.2L434.2,171.2L433.1,170.1L432.1,169.0L431.0,167.9L429.9,166.8L428.8,165.6L427.7,164.4L426.6,163.3L425.6,162.1L424.5,160.8L423.4,159.6L422.3,158.4L421.2,157.1L420.1,155.8L419.1,154.5L418.0,153.2L416.9,151.8L415.8,150.4L414.7,149.1L413.6,147.7L412.6,146.2L411.5,144.8L410.4,143.4L409.3,141.9L408.2,140.4L407.1,138.9L406.1,137.4L405.0,135.8L403.9,134.3L402.8,132.7L401.7,131.1L400.6,129.5L399.6,127.8L398.5,126.2L397.4,124.5L396.3,122.8M569.7,44.2L568.6,46.1L567.5,48.0L566.4,49.9L565.3,51.8L564.2,53.7L563.2,55.5L562.1,57.3L561.0,59.1L559.9,60.9L558.8,62.7L557.7,64.4L556.7,66.2L555.6,67.9L554.5,69.6L553.4,71.2L552.3,72.9L551.2,74.5L550.2,76.2L549.1,77.8L548.0,79.4L546.9,80.9L545.8,82.5L544.7,84.0L543.7,85.5L542.6,87.0L541.5,88.5L540.4,90.0L539.3,91.4L538.2,92.8L537.2,94.2L536.1,95.6L535.0,97.0L533.9,98.3L532.8,99.7L531.7,101.0L530.7,102.3L529.6,103.6L528.5,104.8L527.4,106.1L526.3,107.3L525.2,108.5L524.2,109.7L523.1,110.8L522.0,112.0L520.9,113.1L519.8,114.2L518.7,115.3L517.7,116.4L516.6,117.5L515.5,118.5L514.4,119.6L513.3,120.6L512.2,121.5L511.2,122.5L510.1,123.5L509.0,124.4L507.9,125.3L506.8,126.2L505.7,127.1L504.6,128.0L503.6,128.8L502.5,129.6L501.4,130.4L500.3,131.2L499.2,132.0L498.1,132.8L497.1,133.5L496.0,134.2L494.9,134.9L493.8,135.6L492.7,136.3L491.6,136.9L490.6,137.5L489.5,138.1L488.4,138.7L487.3,139.3L486.2,139.9L485.1,140.4L484.1,140.9L483.0,141.4L481.9,141.9L480.8,142.4L479.7,142.8L478.6,143.2L477.6,143.6L476.5,144.0L475.4,144.4L474.3,144.8L473.2,145.1L472.1,145.4L471.1,145.7L470.0,146.0L468.9,146.3L467.8,146.5L466.7,146.7L465.6,147.0L464.6,147.1L463.5,147.3L462.4,147.5L461.3,147.6L460.2,147.7L459.1,147.8L458.1,147.9L457.0,148.0L455.9,148.0L454.8,148.1L453.7,148.1L452.6,148.1L451.6,148.0L450.5,148.0L449.4,147.9L448.3,147.9L447.2,147.8L446.1,147.6L445.1,147.5L444.0,147.4L442.9,147.2L441.8,147.0L440.7,146.8L439.6,146.6L438.6,146.3L437.5,146.1L436.4,145.8L435.3,145.5L434.2,145.2L433.1,144.9L432.1,144.5L431.0,144.1L429.9,143.8L428.8,143.3L427.7,142.9L426.6,142.5L425.6,142.0L424.5,141.6L423.4,141.1L422.3,140.5L421.2,140.3L420.1,139.9L419.1,139.6L418.0,139.2L416.9,138.7L415.8,138.2L414.7,137.7L413.6,137.2L412.6,136.6L411.5,136.0L410.4,135.3L409.3,134.6L408.2,133.8L407.1,133.1L406.1,132.2L405.0,131.3L403.9,130.4L402.8,129.5L401.7,128.5L400.6,127.4L399.6,126.3L398.5,125.2L397.4,124.0L396.3,122.8M526.3,20.4L525.2,22.8L524.2,25.2L523.1,27.5L522.0,29.8L520.9,32.0L519.8,34.2L518.7,36.3L517.7,38.4L516.6,40.5L515.5,42.5L514.4,44.4L513.3,46.4L512.2,48.2L511.2,50.1L510.1,51.9L509.0,53.7L507.9,55.4L506.8,57.1L505.7,58.8L504.6,60.4L503.6,62.0L502.5,63.6L501.4,65.1L500.3,66.6L499.2,68.1L498.1,69.6L497.1,71.0L496.0,72.4L494.9,73.8L493.8,75.1L492.7,76.4L491.6,77.7L490.6,79.0L489.5,80.3L488.4,81.5L487.3,82.7L486.2,83.9L485.1,85.0L484.1,86.2L483.0,87.3L481.9,88.4L480.8,89.4L479.7,90.5L478.6,91.5L477.6,92.6L476.5,93.5L475.4,94.5L474.3,95.5L473.2,96.4L472.1,97.4L471.1,98.3L470.0,99.2L468.9,100.0L467.8,100.9L466.7,101.7L465.6,102.6L464.6,103.4L463.5,104.2L462.4,104.9L461.3,105.7L460.2,106.5L459.1,107.2L458.1,107.9L457.0,108.6L455.9,109.3L454.8,110.0L453.7,110.6L452.6,111.2L451.6,111.9L450.5,112.5L449.4,113.1L448.3,113.7L447.2,114.2L446.1,114.8L445.1,115.3L444.0,115.8L442.9,116.3L441.8,116.8L440.7,117.3L439.6,117.7L438.6,118.2L437.5,118.6L436.4,119.0L435.3,119.4L434.2,119.8L433.1,120.2L432.1,120.5L431.0,120.9L429.9,121.2L428.8,121.5L427.7,121.8L426.6,122.0L425.6,122.3L424.5,122.5L423.4,122.8L422.3,123.0L421.2,123.1L420.1,123.3L419.1,123.5L418.0,123.6L416.9,123.7L415.8,123.8L414.7,123.9L413.6,124.0L412.6,124.1L411.5,124.1L410.4,124.1L409.3,124.1L408.2,124.1L407.1,124.1L406.1,124.0L405.0,124.0L403.9,123.9L402.8,123.8L401.7,123.7L400.6,123.5L399.6,123.4L398.5,123.2L397.4,123.0L396.3,122.8M483.0,24.7L481.9,26.8L480.8,28.8L479.7,30.8L478.6,32.7L477.6,34.7L476.5,36.6L475.4,38.5L474.3,40.3L473.2,42.1L472.1,43.9L471.1,45.7L470.0,47.4L468.9,49.1L467.8,50.8L466.7,52.5L465.6,54.1L464.6,55.8L463.5,57.4L462.4,58.9L461.3,60.5L460.2,62.0L459.1,63.5L458.1,65.0L457.0,66.4L455.9,67.9L454.8,69.3L453.7,70.7L452.6,72.0L451.6,73.4L450.5,74.7L449.4,76.0L448.3,77.3L447.2,78.6L446.1,79.8L445.1,81.1L444.0,82.3L442.9,83.5L441.8,84.7L440.7,85.8L439.6,87.0L438.6,88.1L437.5,89.2L436.4,90.3L435.3,91.4L434.2,92.5L433.1,93.5L432.1,94.6L431.0,95.6L429.9,96.6L428.8,97.6L427.7,98.6L426.6,99.5L425.6,100.5L424.5,101.4L423.4,102.4L422.3,103.3L421.2,104.2L420.1,105.1L419.1,106.0L418.0,106.9L416.9,107.8L415.8,108.6L414.7,109.5L413.6,110.3L412.6,111.1L411.5,112.0L410.4,112.8L409.3,113.6L408.2,114.4L407.1,115.2L406.1,116.0L405.0,116.7L403.9,117.5L402.8,118.3L401.7,119.1L400.6,119.8L399.6,120.6L398.5,121.3L397.4,122.1L396.3,122.8M439.6,57.8L438.6,59.7L437.5,61.6L436.4,63.4L435.3,65.3L434.2,67.1L433.1,68.9L432.1,70.7L431.0,72.5L429.9,74.3L428.8,76.1L427.7,77.8L426.6,79.6L425.6,81.3L424.5,83.0L423.4,84.7L422.3,86.4L421.2,88.1L420.1,89.7L419.1,91.4L418.0,93.0L416.9,94.6L415.8,96.2L414.7,97.8L413.6,99.4L412.6,100.9L411.5,102.5L410.4,104.0L409.3,105.6L408.2,107.1L407.1,108.6L406.1,110.0L405.0,111.5L403.9,113.0L402.8,114.4L401.7,115.8L400.6,117.3L399.6,118.7L398.5,120.1L397.4,121.4L396.3,122.8M569.7,44.2L570.7,45.2L571.8,46.2L572.9,47.2L574.0,48.2L575.1,49.2L576.2,50.3L577.2,51.4L578.3,52.5L579.4,53.6L580.5,54.8L581.6,55.9L582.7,57.1L583.7,58.3L584.8,59.5L585.9,60.8L587.0,62.0L588.1,63.3L589.2,64.6L590.2,65.9L591.3,67.3L592.4,68.6L593.5,70.0L594.6,71.4L595.7,72.8L596.7,74.3L597.8,75.7L598.9,77.2L600.0,78.7L601.1,80.2L602.2,81.8L603.2,83.3L604.3,84.9L605.4,86.5L606.5,88.1L607.6,89.8L608.7,91.5L609.7,93.2L610.8,94.9L611.9,96.6L613.0,98.4" fill="none" stroke="#00f" stroke-width="1.75" stroke-dasharray="4.8,1.9"/>
<path d="M396.3,122.7L397.4,120.7L398.5,118.7L399.6,116.7L400.6,114.7L401.7,112.7L402.8,110.8L403.9,108.9L405.0,107.0L406.1,105.1L407.1,103.3L408.2,101.4L409.3,99.6L410.4,97.9L411.5,96.1L412.6,94.4L413.6,92.7L414.7,91.0L415.8,89.3L416.9,87.6L418.0,86.0L419.1,84.4L420.1,82.8L421.2,81.3L422.3,79.7L423.4,78.2L424.5,76.7L425.6,75.2L426.6,73.8L427.7,72.3L428.8,70.9L429.9,69.5L431.0,68.1L432.1,66.8L433.1,65.4L434.2,64.1L435.3,62.8L436.4,61.5L437.5,60.3L438.6,59.1L439.6,57.8L440.7,56.6L441.8,55.5L442.9,54.3L444.0,53.2L445.1,52.0L446.1,50.9L447.2,49.9L448.3,48.8L449.4,47.8L450.5,46.7L451.6,45.7L452.6,44.8L453.7,43.8L454.8,42.8L455.9,41.9L457.0,41.0L458.1,40.1L459.1,39.2L460.2,38.4L461.3,37.6L462.4,36.7L463.5,35.9L464.6,35.2L465.6,34.4L466.7,33.7L467.8,32.9L468.9,32.2L470.0,31.6L471.1,30.9L472.1,30.2L473.2,29.6L474.3,29.0L475.4,28.4L476.5,27.8L477.6,27.3L478.6,26.7L479.7,26.2L480.8,25.7L481.9,25.2L483.0,24.7L484.1,24.3L485.1,23.8L486.2,23.4L487.3,23.0L488.4,22.6L489.5,22.3L490.6,21.9L491.6,21.6L492.7,21.3L493.8,21.0L494.9,20.7L496.0,20.5L497.1,20.2L498.1,20.0L499.2,19.8L500.3,19.6L501.4,19.4L502.5,19.3L503.6,19.2L504.6,19.0L505.7,18.9L506.8,18.9L507.9,18.8L509.0,18.7L510.1,18.7L511.2,18.7L512.2,18.7L513.3,18.7L514.4,18.8L515.5,18.8L516.6,18.9L517.7,19.0L518.7,19.1L519.8,19.2L520.9,19.4L522.0,19.5L523.1,19.7L524.2,19.9L525.2,20.1L526.3,20.4L527.4,20.6L528.5,20.9L529.6,21.2L530.7,21.5L531.7,21.8L532.8,22.1L533.9,22.5L535.0,22.8L536.1,23.2L537.2,23.6L538.2,24.1L539.3,24.5L540.4,25.0L541.5,25.4L542.6,25.9L543.7,26.4L544.7,27.0L545.8,27.5L546.9,28.1L548.0,28.7L549.1,29.3L550.2,29.9L551.2,30.5L552.3,31.2L553.4,31.9L554.5,32.6L555.6,33.3L556.7,34.0L557.7,34.8L558.8,35.5L559.9,36.3L561.0,37.1L562.1,37.9L563.2,38.8L564.2,39.6L565.3,40.5L566.4,41.4L567.5,42.3L568.6,43.2L569.7,44.2" fill="none" stroke="#00f" stroke-width="1.8"/>
<rect x="47.9" y="1.6" width="260.0" height="243.3" fill="none" stroke="#3a3a3a" stroke-width="1.1"/>
<path d="M69.3,244.9V241.9M69.3,1.6V4.6M112.5,244.9V241.9M112.5,1.6V4.6M155.7,244.9V241.9M155.7,1.6V4.6M198.9,244.9V241.9M198.9,1.6V4.6M242.1,244.9V241.9M242.1,1.6V4.6M285.3,244.9V241.9M285.3,1.6V4.6M47.9,220.0H50.9M307.9,220.0H304.9M47.9,171.4H50.9M307.9,171.4H304.9M47.9,122.8H50.9M307.9,122.8H304.9M47.9,74.2H50.9M307.9,74.2H304.9M47.9,25.6H50.9M307.9,25.6H304.9" stroke="#3a3a3a" stroke-width="1.1" fill="none"/>
<text transform="translate(69.3,260.4) scale(1,1.05)" text-anchor="middle" stroke="#000" stroke-width="0.25">0</text>
<text transform="translate(112.5,260.4) scale(1,1.05)" text-anchor="middle" stroke="#000" stroke-width="0.25">20</text>
<text transform="translate(155.7,260.4) scale(1,1.05)" text-anchor="middle" stroke="#000" stroke-width="0.25">40</text>
<text transform="translate(198.9,260.4) scale(1,1.05)" text-anchor="middle" stroke="#000" stroke-width="0.25">60</text>
<text transform="translate(242.1,260.4) scale(1,1.05)" text-anchor="middle" stroke="#000" stroke-width="0.25">80</text>
<text transform="translate(285.3,260.4) scale(1,1.05)" text-anchor="middle" stroke="#000" stroke-width="0.25">100</text>
<text transform="translate(43.2,225.0) scale(1,1.05)" text-anchor="end" stroke="#000" stroke-width="0.25">-40</text>
<text transform="translate(43.2,176.4) scale(1,1.05)" text-anchor="end" stroke="#000" stroke-width="0.25">-20</text>
<text transform="translate(43.2,127.8) scale(1,1.05)" text-anchor="end" stroke="#000" stroke-width="0.25">0</text>
<text transform="translate(43.2,79.2) scale(1,1.05)" text-anchor="end" stroke="#000" stroke-width="0.25">20</text>
<text transform="translate(43.2,30.6) scale(1,1.05)" text-anchor="end" stroke="#000" stroke-width="0.25">40</text>
<rect x="374.8" y="1.6" width="260.4" height="243.3" fill="none" stroke="#3a3a3a" stroke-width="1.1"/>
<path d="M396.3,244.9V241.9M396.3,1.6V4.6M439.6,244.9V241.9M439.6,1.6V4.6M483.0,244.9V241.9M483.0,1.6V4.6M526.3,244.9V241.9M526.3,1.6V4.6M569.7,244.9V241.9M569.7,1.6V4.6M613.0,244.9V241.9M613.0,1.6V4.6M374.8,220.0H377.8M635.2,220.0H632.2M374.8,171.4H377.8M635.2,171.4H632.2M374.8,122.8H377.8M635.2,122.8H632.2M374.8,74.2H377.8M635.2,74.2H632.2M374.8,25.6H377.8M635.2,25.6H632.2" stroke="#3a3a3a" stroke-width="1.1" fill="none"/>
<text transform="translate(396.3,260.4) scale(1,1.05)" text-anchor="middle" stroke="#000" stroke-width="0.25">0</text>
<text transform="translate(439.6,260.4) scale(1,1.05)" text-anchor="middle" stroke="#000" stroke-width="0.25">20</text>
<text transform="translate(483.0,260.4) scale(1,1.05)" text-anchor="middle" stroke="#000" stroke-width="0.25">40</text>
<text transform="translate(526.3,260.4) scale(1,1.05)" text-anchor="middle" stroke="#000" stroke-width="0.25">60</text>
<text transform="translate(569.7,260.4) scale(1,1.05)" text-anchor="middle" stroke="#000" stroke-width="0.25">80</text>
<text transform="translate(613.0,260.4) scale(1,1.05)" text-anchor="middle" stroke="#000" stroke-width="0.25">100</text>
<text transform="translate(370.1,225.0) scale(1,1.05)" text-anchor="end" stroke="#000" stroke-width="0.25">-40</text>
<text transform="translate(370.1,176.4) scale(1,1.05)" text-anchor="end" stroke="#000" stroke-width="0.25">-20</text>
<text transform="translate(370.1,127.8) scale(1,1.05)" text-anchor="end" stroke="#000" stroke-width="0.25">0</text>
<text transform="translate(370.1,79.2) scale(1,1.05)" text-anchor="end" stroke="#000" stroke-width="0.25">20</text>
<text transform="translate(370.1,30.6) scale(1,1.05)" text-anchor="end" stroke="#000" stroke-width="0.25">40</text>
<text transform="translate(175.4,277.2) scale(1,1.027)" text-anchor="middle" font-size="13.8" stroke="#000" stroke-width="0.25">Voltage [V]</text>
<text transform="translate(503.6,277.2) scale(1,1.027)" text-anchor="middle" font-size="13.8" stroke="#000" stroke-width="0.25">Voltage [V]</text>
<text transform="translate(14.5,123.9) scale(1,1.03) rotate(-90)" text-anchor="middle" stroke="#000" stroke-width="0.25">Hysteresis component <tspan font-size="14">[</tspan><tspan font-family="Liberation Serif, serif" font-size="11.8" dx="-0.8">&#956;&#949;</tspan><tspan font-size="14" dx="-0.6">]</tspan></text>
<text transform="translate(341.1,123.9) scale(1,1.03) rotate(-90)" text-anchor="middle" stroke="#000" stroke-width="0.25">Hysteresis component <tspan font-size="14">[</tspan><tspan font-family="Liberation Serif, serif" font-size="11.8" dx="-0.8">&#956;&#949;</tspan><tspan font-size="14" dx="-0.6">]</tspan></text>
<text transform="translate(0.6,14.2) scale(1,1.05)" font-family="Liberation Serif, serif" font-size="16.5">(a)</text>
<text transform="translate(326.4,14.2) scale(1,1.05)" font-family="Liberation Serif, serif" font-size="16.5">(b)</text>
<rect x="193.8" y="1.6" width="114.9" height="21.6" fill="#fff" stroke="#3a3a3a" stroke-width="1.1"/>
<path d="M200.1,11.3H234.8" stroke="#f00" stroke-width="1.6"/>
<text transform="translate(239.1,17.7) scale(1,1.035)" font-size="13.7" stroke="#000" stroke-width="0.25">Bouc-Wen</text>
<rect x="531.8" y="1.6" width="103.8" height="22.2" fill="#fff" stroke="#3a3a3a" stroke-width="1.1"/>
<path d="M538.3,12.5H571" stroke="#00f" stroke-width="1.7" stroke-dasharray="5,1.9"/>
<text transform="translate(576.4,18.4) scale(1,1.035)" font-size="13.7" stroke="#000" stroke-width="0.25">Operator</text>
</g>
</svg>
</body></html>
